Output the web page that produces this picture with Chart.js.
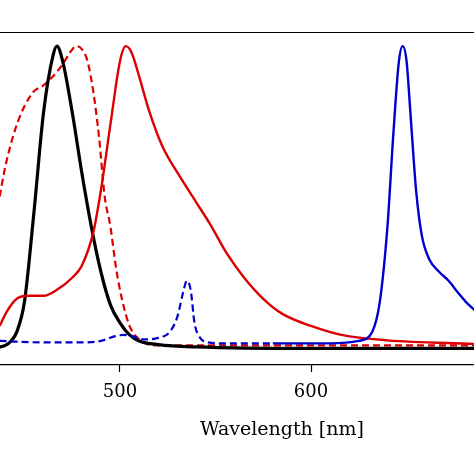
<!DOCTYPE html>
<html><head><meta charset="utf-8">
<script src="https://cdn.jsdelivr.net/npm/chart.js@4"></script>
<style>html,body{margin:0;padding:0;background:#fff}#wrap{width:474px;height:474px}</style>
</head><body><div id="wrap"><canvas id="c"></canvas></div>
<script>
// wavelength [nm] and normalised intensity
const blackX = [437, 440, 443, 446, 450, 455, 460, 465, 467, 470, 475, 480, 485, 490, 495, 500, 505, 510, 520, 540, 600, 686];
const blackY = [0.0, 0.005, 0.02, 0.05, 0.15, 0.45, 0.78, 0.97, 1.0, 0.95, 0.78, 0.58, 0.4, 0.25, 0.14, 0.08, 0.04, 0.02, 0.008, 0.0, -0.005, -0.005];
const redDashX = [437, 440, 445, 450, 455, 460, 465, 470, 474, 477, 480, 483, 486, 489, 492, 495, 498, 501, 505, 510, 520, 686];
const redDashY = [0.5, 0.6, 0.72, 0.8, 0.85, 0.87, 0.9, 0.94, 0.98, 1.0, 0.99, 0.95, 0.85, 0.7, 0.5, 0.4, 0.26, 0.16, 0.07, 0.025, 0.005, 0.005];
const redX = [437, 441, 446, 452, 460, 467, 475, 480, 486, 490, 495, 500, 503, 506, 510, 515, 522, 531, 540, 547, 556, 565, 575, 585, 600, 616, 640, 686];
const redY = [0.07, 0.12, 0.16, 0.17, 0.17, 0.19, 0.23, 0.27, 0.38, 0.52, 0.74, 0.95, 1.0, 0.98, 0.9, 0.79, 0.67, 0.57, 0.48, 0.41, 0.31, 0.23, 0.16, 0.11, 0.07, 0.04, 0.022, 0.01];
const blueDashX = [437, 460, 480, 490, 497, 502, 507, 512, 520, 526, 530, 533, 535, 537, 539, 542, 546, 555, 580];
const blueDashY = [0.02, 0.015, 0.015, 0.02, 0.035, 0.04, 0.035, 0.025, 0.03, 0.05, 0.1, 0.18, 0.22, 0.19, 0.08, 0.03, 0.015, 0.012, 0.012];
const blueX = [580, 610, 625, 632, 636, 640, 643, 646, 648, 650, 652, 655, 658, 662, 667, 672, 677, 681, 686];
const blueY = [0.012, 0.012, 0.02, 0.05, 0.15, 0.4, 0.7, 0.95, 1.0, 0.95, 0.78, 0.52, 0.37, 0.29, 0.25, 0.22, 0.18, 0.15, 0.12];
const xTicks = [500, 600];
const xTitle = 'Wavelength [nm]';

const pts = (xs, ys) => xs.map((x, i) => ({x: x, y: ys[i]}));
const line = (label, xs, ys, color, width, dash) => ({
    label: label, data: pts(xs, ys), borderColor: color, borderWidth: width,
    borderDash: dash, pointRadius: 0, fill: false, cubicInterpolationMode: 'monotone'
});

// top frame line and the axis title (centred on the full, cropped axis)
const extras = {
    id: 'extras',
    afterDraw(chart) {
        const {ctx, chartArea} = chart;
        ctx.save();
        ctx.strokeStyle = '#000';
        ctx.lineWidth = 1;
        ctx.beginPath();
        ctx.moveTo(chartArea.left, chartArea.top + 0.5);
        ctx.lineTo(chartArea.right, chartArea.top + 0.5);
        ctx.stroke();
        ctx.fillStyle = '#000';
        ctx.font = '19px "DejaVu Serif"';
        ctx.textAlign = 'center';
        ctx.textBaseline = 'middle';
        ctx.fillText(xTitle, 282, 430);
        ctx.restore();
    }
};

new Chart(document.getElementById('c'), {
    type: 'line',
    data: {
        datasets: [
            line('blue dashed', blueDashX, blueDashY, '#0000cc', 2.2, [7, 4]),
            line('blue', blueX, blueY, '#0000cc', 2.4, []),
            line('red', redX, redY, '#dd0000', 2.4, []),
            line('black', blackX, blackY, '#000000', 3.2, []),
            line('red dashed', redDashX, redDashY, '#dd0000', 2.2, [7, 4])
        ]
    },
    options: {
        responsive: true, maintainAspectRatio: false, animation: false,
        layout: {padding: {top: 32, left: 0, right: 0, bottom: 0}},
        plugins: {legend: {display: false}, tooltip: {enabled: false}},
        scales: {
            x: {
                type: 'linear', min: 437.2, max: 685.3,
                afterBuildTicks: s => { s.ticks = xTicks.map(v => ({value: v})); },
                afterFit: s => { s.height = 109; },
                border: {color: '#000', width: 1.2},
                grid: {drawOnChartArea: false, tickLength: 7, color: '#000', tickWidth: 1.2},
                ticks: {color: '#000', padding: 10, maxRotation: 0, font: {family: 'DejaVu Serif', size: 18}}
            },
            y: {display: false, min: -0.06, max: 1.047}
        }
    },
    plugins: [extras]
});
</script></body></html>
